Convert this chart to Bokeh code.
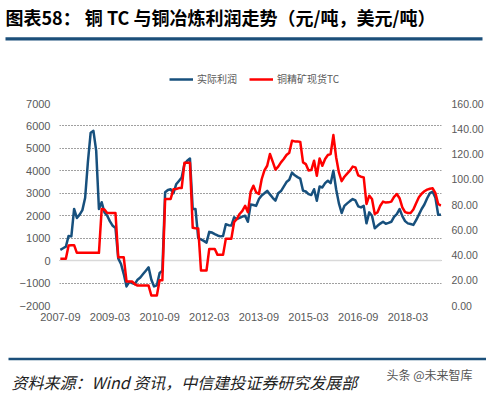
from bokeh.plotting import figure
from bokeh.models import (Range1d, LinearAxis, FixedTicker, Span, Label, Legend,
                          LegendItem, NumeralTickFormatter, ColumnDataSource, BoxAnnotation)
from bokeh.layouts import column
from bokeh.embed import file_html
from bokeh.resources import INLINE

# ---------------- data ----------------
months = [f"{2007 + (8 + i) // 12}-{(8 + i) % 12 + 1:02d}" for i in range(139)]
x_label_idx = [0, 18, 36, 54, 72, 90, 108, 126]

profit = [
    480, 550, 620, 1100, 1080, 2300, 1900, 2050, 2250, 2800,
    4400, 5700, 5780, 4900, 2300, 2600, 2150, 2000, 1750, 1550,
    1450, 100, -150, -600, -1150, -950, -1000, -1050, -850, -750,
    -600, -450, -300, -850, -1150, -1100, -550, -450, 3050, 3150,
    3180, 3000, 3400, 3550, 3700, 4300, 4450, 4550, 2300, 2300,
    1000, 950, 880, 800, 1280, 1250, 1180, 1120, 1080, 1100,
    1620, 1580, 1560, 1930, 1850, 1900, 1960, 2000, 1730, 2500,
    2480, 2440, 2740, 2900, 3000, 3110, 2950, 2800, 2670, 3000,
    3100, 3300, 3500, 3600, 3920, 3800, 3720, 3650, 3110, 3080,
    2960, 2920, 3180, 2670, 3300, 3260, 3450, 3560, 3450, 4000,
    3180, 2550, 2120, 2440, 2550, 2650, 2740, 2680, 2420, 2370,
    2440, 1660, 2150, 2000, 1440, 1550, 1650, 1730, 1640, 1680,
    1730, 1950, 2070, 2300, 1980, 1760, 1660, 1630, 1590, 1800,
    2050, 2300, 2500, 2780, 3010, 3070, 2800, 2040, 2040,
]

tc = [
    37, 37, 37, 47.5, 47.8, 47.8, 41.7, 41.7, 41.7, 41.7, 41.7, 41.7, 41.7, 41.7, 41.7,
    76.5, 76, 73.3, 73.3, 73.3, 73.3,
    38.2, 38.2, 38.2,
    19, 19, 19, 17, 15.8, 15.8, 15.8, 15.8, 15.8,
    7.9, 7.9, 7.9,
    20, 20,
    84.4, 84.4, 84.4, 92, 92.3, 93, 93,
    113, 113, 113,
    61.5, 61.2, 61,
    27.7, 27.7, 27.7,
    44.8, 44.8, 44.8,
    40.1, 40.1, 40.1,
    52.8, 52.8, 52.8,
    66, 68.5, 72.5, 75, 79, 73.8,
    90, 94.9, 89.6, 88.3, 100, 107, 110.7, 120, 114, 107.6, 110, 113.4, 116, 119.2, 121,
    130.5, 130, 130, 129.5,
    113.4, 112, 107, 107.3, 114.7, 102.8, 116.5, 110.7, 116, 119.2, 120, 135, 117.5, 105.4,
    98.5, 102, 104.5, 106.8, 110, 109.4, 103, 102, 101.5,
    80.4, 87, 84.4, 72.5, 73.8, 79, 82.3, 81.5, 81.7, 82.3, 86, 88.3, 85, 77.8, 74, 73.3,
    73.3, 76, 81, 85.7, 88.5, 90.5, 91.8, 92.5, 92.8, 89, 80.4, 79.1,
]

left_ticks = [-2000, -1000, 0, 1000, 2000, 3000, 4000, 5000, 6000, 7000]
right_ticks = [0, 20, 40, 60, 80, 100, 120, 140, 160]

series_names = ["实际利润", "铜精矿现货TC"]
title_text = "图表58：  铜 TC 与铜冶炼利润走势（元/吨，美元/吨）"
source_text = "资料来源：Wind 资讯，中信建投证券研究发展部"
mark_text = "头条 @未来智库"

BLUE = "#17507D"
RED = "#FF0000"
RULE = "#1B4F7A"
GREY = "#595959"
W = 486
HH, MH, FH = 95, 240, 58

src = ColumnDataSource(dict(x=list(range(len(profit))), profit=profit, tc=tc))


def blank(h):
    f = figure(width=W, height=h, x_range=Range1d(0, W), y_range=Range1d(0, h),
               min_border_left=0, min_border_right=0, min_border_top=0, min_border_bottom=0,
               x_axis_location=None, y_axis_location=None, frame_align=False,
               output_backend="svg", toolbar_location=None)
    f.grid.visible = False
    f.outline_line_color = None
    return f


# ---------------- header: title, rule, legend ----------------
hdr = blank(HH)
hdr.add_layout(Label(x=5, y=HH - 16.5, text=title_text, text_font="Noto Sans CJK SC",
                     text_font_style="bold", text_font_size="18px", text_color="#000000",
                     text_baseline="middle", text_align="left"))
hdr.add_layout(BoxAnnotation(left=5, right=482, bottom=HH - 40, top=HH - 36.8,
                             fill_color=RULE, fill_alpha=1, line_color=None))
# legend proxies: same series, mapped onto an off-canvas range so only the legend shows
hdr.extra_y_ranges = {"off": Range1d(10000, 20000)}
h1 = hdr.line("x", "profit", source=src, y_range_name="off", line_color=BLUE, line_width=2.5)
h2 = hdr.line("x", "tc", source=src, y_range_name="off", line_color=RED, line_width=2.5)
leg = Legend(items=[LegendItem(label=series_names[0], renderers=[h1]),
                    LegendItem(label=series_names[1], renderers=[h2])],
             location=(169, 9), orientation="horizontal",
             border_line_color=None, background_fill_alpha=0,
             padding=0, margin=0, spacing=12, glyph_width=24, glyph_height=14,
             label_height=14, label_standoff=4, label_text_font_size="10px",
             label_text_font="Noto Sans CJK SC", label_text_color=GREY)
hdr.add_layout(leg)

# ---------------- main chart ----------------
p = figure(width=W, height=MH, x_range=Range1d(-0.3, 138.2),
           y_range=Range1d(left_ticks[0], left_ticks[-1]),
           min_border_left=59, min_border_right=45, min_border_top=8, min_border_bottom=30,
           frame_align=False, output_backend="svg", toolbar_location=None)
p.outline_line_color = None
p.extra_y_ranges = {"tc": Range1d(right_ticks[0], right_ticks[-1])}

p.xgrid.visible = False
p.ygrid.ticker = FixedTicker(ticks=left_ticks)
p.ygrid.grid_line_color = "#404040"
p.ygrid.grid_line_dash = "1 2"
p.ygrid.grid_line_width = 1

p.add_layout(Span(location=0, dimension="width", line_color="#D9D9D9", line_width=1.5,
                  level="underlay"))

for ax in (p.xaxis[0], p.yaxis[0]):
    ax.axis_line_color = None
    ax.major_tick_line_color = None
    ax.minor_tick_line_color = None
    ax.major_tick_out = 0
    ax.major_tick_in = 0
    ax.major_label_text_color = GREY
    ax.major_label_text_font = "Liberation Sans"
    ax.major_label_text_font_size = "11px"

p.yaxis[0].ticker = FixedTicker(ticks=left_ticks)
p.yaxis[0].major_label_standoff = 9
p.xaxis[0].ticker = FixedTicker(ticks=x_label_idx)
p.xaxis[0].major_label_overrides = {i: months[i] for i in x_label_idx}
p.xaxis[0].major_label_standoff = 7

rax = LinearAxis(y_range_name="tc", ticker=FixedTicker(ticks=right_ticks),
                 formatter=NumeralTickFormatter(format="0.00"))
rax.axis_line_color = None
rax.major_tick_line_color = None
rax.minor_tick_line_color = None
rax.major_tick_out = 0
rax.major_tick_in = 0
rax.major_label_text_color = GREY
rax.major_label_text_font = "Liberation Sans"
rax.major_label_text_font_size = "10.5px"
rax.major_label_standoff = 10
p.add_layout(rax, "right")

p.line("x", "profit", source=src, line_color=BLUE, line_width=2.5, line_join="round")
p.line("x", "tc", source=src, y_range_name="tc", line_color=RED, line_width=2.5,
       line_join="round")

# ---------------- footer ----------------
ftr = blank(FH)
ftr.add_layout(BoxAnnotation(left=8, right=486, bottom=FH - 24.8, top=FH - 22.2,
                             fill_color=RULE, fill_alpha=1, line_color=None))
ftr.add_layout(Label(x=11, y=FH - 46.5, text=source_text, text_font="Noto Sans CJK SC",
                     text_font_style="italic", text_font_size="16px", text_color="#222222",
                     text_baseline="middle", text_align="left"))
ftr.add_layout(Label(x=386, y=FH - 39, text=mark_text, text_font="Noto Sans CJK SC",
                     text_font_size="12px", text_color="#555555",
                     text_baseline="middle", text_align="left"))

layout = column(hdr, p, ftr, spacing=0)
open("out.html", "w").write(file_html(layout, INLINE))
